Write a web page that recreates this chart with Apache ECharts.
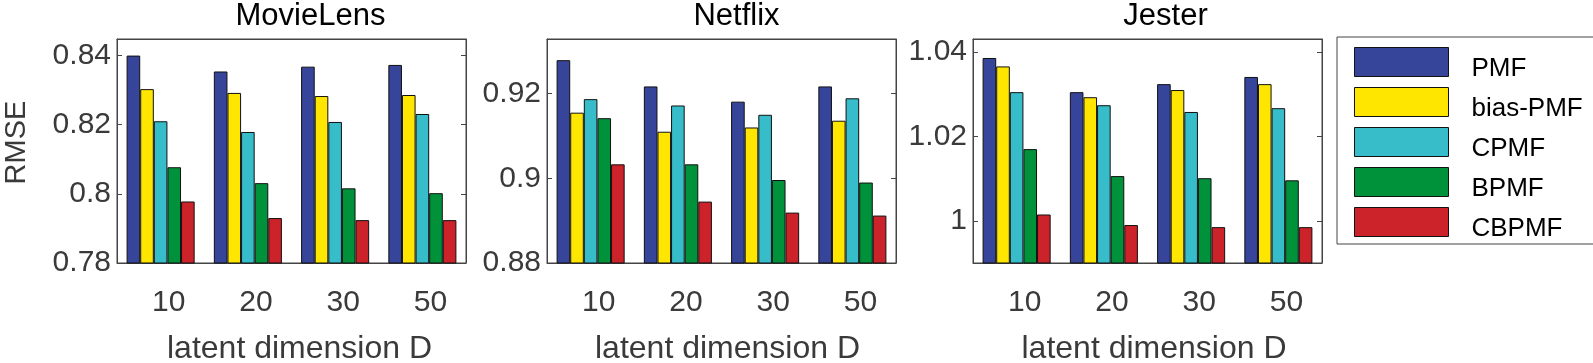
<!DOCTYPE html>
<html>
<head>
<meta charset="utf-8">
<script src="https://cdn.jsdelivr.net/npm/echarts@6/dist/echarts.min.js"></script>
<style>
html, body { margin: 0; padding: 0; background: #fff; }
#main { width: 1593px; height: 363px; }
</style>
</head>
<body>
<div id="main"></div>
<script>
var categories = ['10', '20', '30', '50'];
var methods = ['PMF', 'bias-PMF', 'CPMF', 'BPMF', 'CBPMF'];
var titles = ['MovieLens', 'Netflix', 'Jester'];

// RMSE, one row per method, one column per latent dimension
var movieLens = [
    [0.8400, 0.8354, 0.8368, 0.8373],
    [0.8303, 0.8292, 0.8283, 0.8286],
    [0.8210, 0.8179, 0.8208, 0.8231],
    [0.8077, 0.8031, 0.8016, 0.8002],
    [0.7978, 0.7930, 0.7924, 0.7924]
];
var netflix = [
    [0.9279, 0.9217, 0.9181, 0.9217],
    [0.9155, 0.9110, 0.9120, 0.9136],
    [0.9187, 0.9172, 0.9150, 0.9189],
    [0.9142, 0.9033, 0.8996, 0.8990],
    [0.9033, 0.8945, 0.8919, 0.8912]
];
var jester = [
    [1.0386, 1.0305, 1.0324, 1.0341],
    [1.0366, 1.0293, 1.0310, 1.0324],
    [1.0305, 1.0274, 1.0258, 1.0267],
    [1.0170, 1.0106, 1.0101, 1.0096],
    [1.0015, 0.9990, 0.9985, 0.9985]
];

var movieLensTicks = [0.78, 0.8, 0.82, 0.84];
var netflixTicks = [0.88, 0.9, 0.92];
var jesterTicks = [1, 1.02, 1.04];

var font = '"Liberation Sans", Arial, sans-serif';
var colors = ['#36449a', '#ffe600', '#37bcc9', '#00913b', '#cc2229'];
var axisColor = '#444';
var textColor = '#3a3a3a';

var panels = [
    {data: movieLens, ticks: movieLensTicks, min: 0.78, max: 0.8448, left: 117, titleShift: 38, nameShift: 16},
    {data: netflix, ticks: netflixTicks, min: 0.88, max: 0.9329, left: 547, titleShift: 30, nameShift: 12},
    {data: jester, ticks: jesterTicks, min: 0.99, max: 1.0431, left: 973, titleShift: 36, nameShift: 13}
];

var grid = [], xAxis = [], yAxis = [], series = [];

panels.forEach(function (p, i) {
    grid.push({
        left: p.left, top: 39, width: 349, height: 224,
        outerBoundsMode: 'none',
        show: true, borderColor: axisColor, borderWidth: 1
    });
    // bottom axis with tick labels
    xAxis.push({
        type: 'category', gridIndex: i, data: categories, position: 'bottom',
        axisLine: {lineStyle: {color: axisColor}},
        axisTick: {inside: true, alignWithLabel: true, length: 5, lineStyle: {color: axisColor}},
        axisLabel: {fontSize: 30, fontFamily: font, color: textColor, margin: 25, padding: [0, 0, 0, 16]},
        name: 'latent dimension D', nameLocation: 'middle', nameGap: 70,
        nameTextStyle: {fontSize: 32, fontFamily: font, color: textColor, padding: [0, 0, 0, p.nameShift]}
    });
    // top axis: box edge plus panel title
    xAxis.push({
        type: 'category', gridIndex: i, data: categories, position: 'top',
        axisLine: {lineStyle: {color: axisColor}},
        axisTick: {inside: true, alignWithLabel: true, length: 5, lineStyle: {color: axisColor}},
        axisLabel: {show: false},
        name: titles[i], nameLocation: 'middle', nameGap: 7,
        nameTextStyle: {fontSize: 31, fontFamily: font, color: '#000', padding: [0, 0, 0, p.titleShift]}
    });
    yAxis.push({
        type: 'value', gridIndex: i, min: p.min, max: p.max, position: 'left',
        axisLine: {show: true, lineStyle: {color: axisColor}},
        axisTick: {show: true, inside: true, length: 5, customValues: p.ticks, lineStyle: {color: axisColor}},
        axisLabel: {customValues: p.ticks, fontSize: 30, fontFamily: font, color: textColor, margin: 6},
        splitLine: {show: false},
        name: i === 0 ? 'RMSE' : '', nameLocation: 'middle', nameGap: 86,
        nameTextStyle: {fontSize: 29, fontFamily: font, color: textColor, padding: [0, 0, 0, 17]}
    });
    yAxis.push({
        type: 'value', gridIndex: i, min: p.min, max: p.max, position: 'right',
        axisLine: {show: true, lineStyle: {color: axisColor}},
        axisTick: {show: true, inside: true, length: 5, customValues: p.ticks, lineStyle: {color: axisColor}},
        axisLabel: {show: false},
        splitLine: {show: false}
    });
    methods.forEach(function (m, k) {
        series.push({
            type: 'bar', name: m,
            xAxisIndex: 2 * i, yAxisIndex: 2 * i,
            data: p.data[k],
            barGap: '0%', barCategoryGap: '22%',
            itemStyle: {color: colors[k], borderColor: '#111', borderWidth: 1}
        });
    });
});

var myChart = echarts.init(document.getElementById('main'));
myChart.setOption({
    animation: false,
    color: colors,
    legend: {
        data: methods, orient: 'vertical', left: 1337, top: 37,
        icon: 'rect', itemWidth: 94, itemHeight: 29, itemGap: 5,
        padding: [10, 12, 2, 17],
        borderColor: axisColor, borderWidth: 1,
        selectedMode: false,
        itemStyle: {borderColor: '#111', borderWidth: 1},
        formatter: '{t|{name}}',
        textStyle: {
            fontSize: 26, fontFamily: font, color: '#000', padding: [7, 0, -7, 18],
            rich: {t: {fontSize: 26, fontFamily: font, color: '#000'}}
        }
    },
    grid: grid,
    xAxis: xAxis,
    yAxis: yAxis,
    series: series
});
</script>
</body>
</html>
